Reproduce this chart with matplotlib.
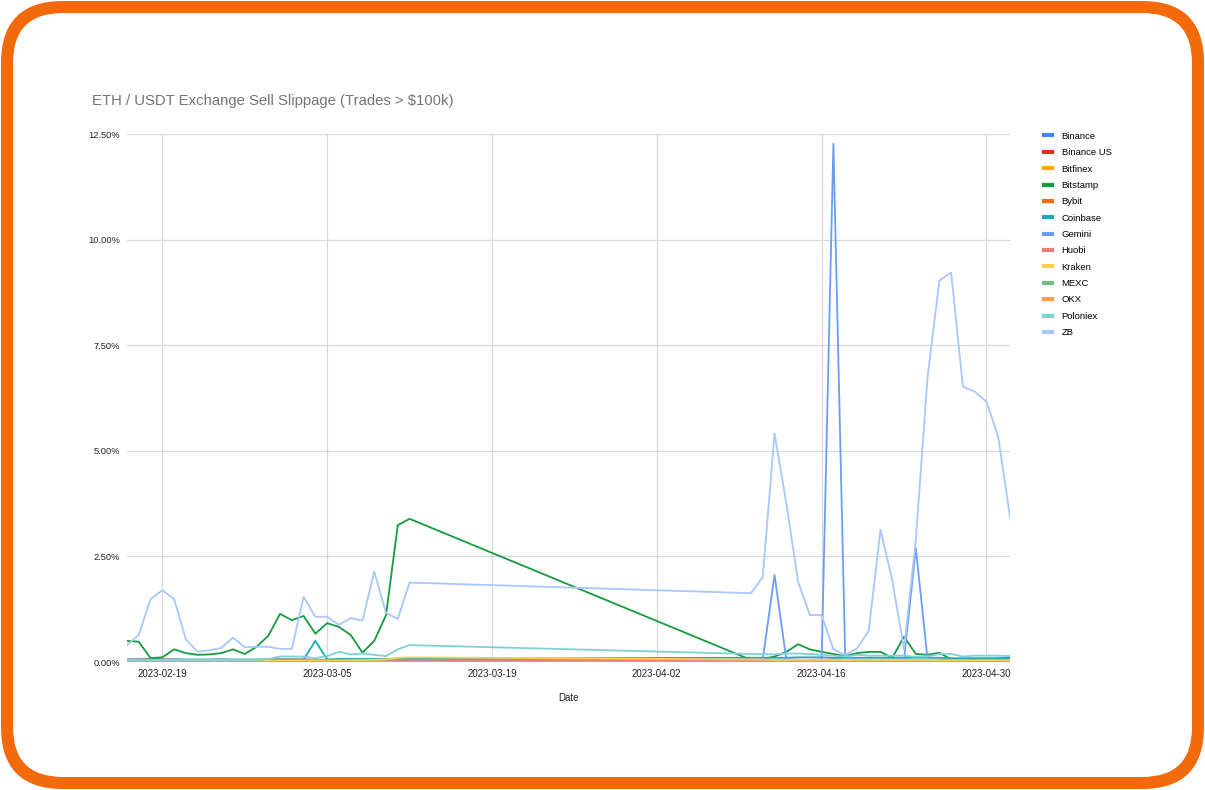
import numpy as np
import pandas as pd
import matplotlib
matplotlib.use("Agg")
import matplotlib.pyplot as plt
import matplotlib.dates as mdates
from matplotlib.patches import FancyBboxPatch
from matplotlib.ticker import FuncFormatter

# fechas con datos (hay un hueco entre el 12 de marzo y el 10 de abril)
dates = list(pd.date_range("2023-02-16", "2023-03-12")) + list(pd.date_range("2023-04-10", "2023-05-02"))

exchanges = ["Binance", "Binance US", "Bitfinex", "Bitstamp", "Bybit", "Coinbase", "Gemini",
             "Huobi", "Kraken", "MEXC", "OKX", "Poloniex", "ZB"]
colors = ["#4285F4", "#DF2E20", "#F9AB00", "#189A3E", "#FF6D01", "#1FA9B6", "#6A9DF5",
          "#F07B72", "#FCD04F", "#6DBF82", "#FF994D", "#7ED1D7", "#A8C7FA"]

# slippage en %
binance = [0.02] * 25 + [0.02] * 23
binance_us = [0.06, 0.06, 0.07, 0.06, 0.06, 0.05, 0.05, 0.05, 0.06, 0.05, 0.05, 0.05, 0.06,
              0.06, 0.06, 0.06, 0.05, 0.05, 0.05, 0.06, 0.05, 0.05, 0.06, 0.05, 0.05,
              0.05, 0.05, 0.05, 0.05, 0.05, 0.05, 0.05, 0.06, 0.05, 0.05, 0.05, 0.05, 0.05,
              0.05, 0.05, 0.05, 0.05, 0.05, 0.05, 0.05, 0.05, 0.06, 0.07]
bitfinex = [0.03] * 25 + [0.03] * 23
bitstamp = [0.50, 0.48, 0.09, 0.11, 0.30, 0.21, 0.17, 0.18, 0.21, 0.30, 0.19, 0.36, 0.62,
            1.14, 0.99, 1.09, 0.67, 0.92, 0.83, 0.64, 0.22, 0.50, 1.11, 3.24, 3.39,
            0.05, 0.07, 0.13, 0.24, 0.42, 0.30, 0.24, 0.19, 0.14, 0.21, 0.24, 0.24, 0.10,
            0.60, 0.19, 0.17, 0.22, 0.06, 0.05, 0.05, 0.06, 0.08, 0.10]
bybit = [0.02] * 25 + [0.02] * 23
coinbase = [0.06, 0.06, 0.06, 0.06, 0.06, 0.06, 0.06, 0.06, 0.06, 0.06, 0.06, 0.06, 0.06,
            0.06, 0.06, 0.06, 0.50, 0.06, 0.07, 0.07, 0.07, 0.07, 0.07, 0.08, 0.08,
            0.10, 0.10, 0.10, 0.10, 0.11, 0.11, 0.11, 0.10, 0.10, 0.10, 0.10, 0.10, 0.10,
            0.10, 0.10, 0.10, 0.10, 0.09, 0.09, 0.09, 0.09, 0.09, 0.09]
gemini = [0.04] * 25 + [0.05, 0.06, 2.06, 0.06, 0.05, 0.05, 0.06, 12.27, 0.15, 0.05, 0.05,
                        0.05, 0.05, 0.06, 2.70, 0.06, 0.05, 0.05, 0.05, 0.05, 0.05, 0.05, 0.05]
huobi = [0.05] * 25 + [0.04] * 23
kraken = [0.02, 0.02, 0.02, 0.02, 0.02, 0.03, 0.03, 0.03, 0.03, 0.03, 0.03, 0.03, 0.03,
          0.03, 0.03, 0.03, 0.03, 0.03, 0.03, 0.04, 0.04, 0.05, 0.06, 0.10, 0.11,
          0.06, 0.06, 0.05, 0.05, 0.05, 0.05, 0.05, 0.05, 0.05, 0.05, 0.05, 0.05, 0.05,
          0.05, 0.05, 0.05, 0.04, 0.04, 0.04, 0.04, 0.04, 0.04, 0.04]
mexc = [0.01] * 25 + [0.01] * 23
okx = [0.01] * 25 + [0.01] * 23
poloniex = [0.05, 0.05, 0.05, 0.05, 0.05, 0.05, 0.05, 0.05, 0.05, 0.05, 0.05, 0.05, 0.07,
            0.13, 0.13, 0.13, 0.09, 0.14, 0.24, 0.18, 0.20, 0.17, 0.14, 0.30, 0.40,
            0.19, 0.19, 0.18, 0.20, 0.20, 0.19, 0.17, 0.15, 0.13, 0.17, 0.15, 0.15, 0.15,
            0.15, 0.12, 0.13, 0.19, 0.19, 0.13, 0.15, 0.15, 0.15, 0.14]
zb = [0.40, 0.64, 1.49, 1.70, 1.49, 0.54, 0.24, 0.28, 0.33, 0.58, 0.35, 0.36, 0.36,
      0.31, 0.31, 1.54, 1.07, 1.07, 0.88, 1.04, 0.98, 2.14, 1.16, 1.02, 1.88,
      1.63, 2.01, 5.41, 3.76, 1.90, 1.11, 1.11, 0.30, 0.17, 0.32, 0.74, 3.13, 1.94,
      0.30, 2.90, 6.75, 9.03, 9.22, 6.52, 6.40, 6.16, 5.33, 3.44]

series = [binance, binance_us, bitfinex, bitstamp, bybit, coinbase, gemini,
          huobi, kraken, mexc, okx, poloniex, zb]

tick_dates = ["2023-02-19", "2023-03-05", "2023-03-19", "2023-04-02", "2023-04-16", "2023-04-30"]
y_ticks = [0, 2.5, 5, 7.5, 10, 12.5]

plt.rcParams["font.family"] = ["Liberation Sans", "DejaVu Sans"]

W, H = 1205, 790
fig = plt.figure(figsize=(W / 100, H / 100), dpi=100)
fig.patch.set_facecolor("white")

# marco naranja redondeado
bg = fig.add_axes([0, 0, 1, 1])
bg.set_xlim(0, W)
bg.set_ylim(0, H)
bg.axis("off")
bg.add_patch(FancyBboxPatch((1, 1), W - 2, H - 2, boxstyle="round,pad=0,rounding_size=62",
                            facecolor="#F26A0C", edgecolor="none"))
bg.add_patch(FancyBboxPatch((13, 13), W - 26, H - 26, boxstyle="round,pad=0,rounding_size=50",
                            facecolor="white", edgecolor="none"))

ax = fig.add_axes([127 / W, 1 - 662 / H, (1010 - 127) / W, (662 - 134) / H])
ax.set_facecolor("none")

for name, vals, c in zip(exchanges, series, colors):
    ax.plot(dates, vals, color=c, lw=1.3, label=name)

ax.set_ylim(0, 12.5)
ax.set_xlim(pd.Timestamp("2023-02-16"), pd.Timestamp("2023-05-02"))
ax.set_yticks(y_ticks)
ax.yaxis.set_major_formatter(FuncFormatter(lambda v, p: f"{v:.2f}%"))
ax.set_xticks(pd.to_datetime(tick_dates))
ax.xaxis.set_major_formatter(mdates.DateFormatter("%Y-%m-%d"))
ax.tick_params(axis="both", length=0, labelsize=6.7, colors="#222222")
ax.tick_params(axis="x", pad=5, labelsize=7)
ax.tick_params(axis="y", pad=5)
ax.grid(True, color="#D9D9D9", lw=0.9)
ax.set_axisbelow(True)
for s in ax.spines.values():
    s.set_visible(False)
ax.set_xlabel("Date", fontsize=7, color="#222222", labelpad=10)

fig.text(92 / W, 1 - 101 / H, "ETH / USDT Exchange Sell Slippage (Trades > $100k)",
         fontsize=10.7, color="#757575", va="center", ha="left")

ax.legend(loc="upper left", bbox_to_anchor=(1040 / W, 1 - 128 / H), bbox_transform=fig.transFigure,
          frameon=False, fontsize=6.8, handlelength=0.9, handletextpad=1.0, labelspacing=0.78,
          borderaxespad=0)
leg = ax.get_legend()
for line in leg.get_lines():
    line.set_linewidth(3)

fig.savefig("out.png", dpi=100)
